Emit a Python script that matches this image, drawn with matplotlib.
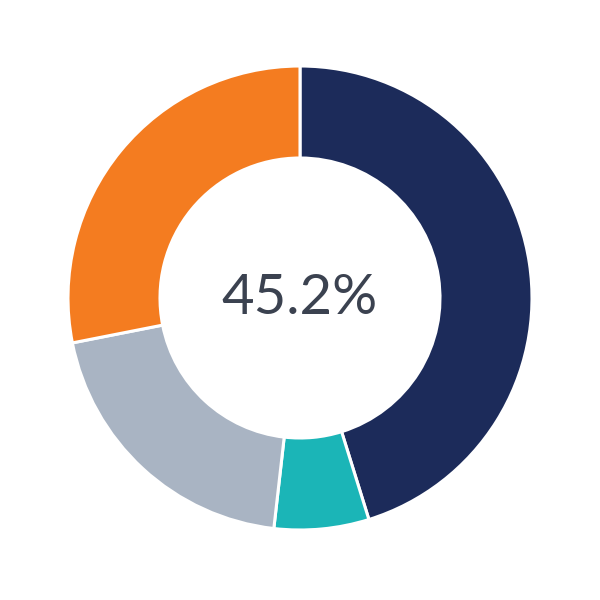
import matplotlib.pyplot as plt

labels = ['A', 'B', 'C', 'D']
values = [45.2, 6.6, 20.1, 28.1]
colors = ['#1c2b5a', '#1bb5b7', '#a9b4c3', '#f47c20']
center_label = '45.2%'

fig = plt.figure(figsize=(6, 6), dpi=100)
ax = fig.add_axes([0, 0, 1, 1])

r = 232
ax.pie(values, colors=colors, startangle=90, counterclock=False,
       radius=1, wedgeprops=dict(width=92 / r, edgecolor='white', linewidth=2.2))

ax.text(0, 0, center_label, ha='center', va='center', fontsize=40.5,
        family=['Lato', 'DejaVu Sans'], fontweight='normal', color='#3b4250')

ax.set_xlim(-300 / r, 300 / r)
ax.set_ylim(-302 / r, 298 / r)
ax.set_aspect('equal')
ax.axis('off')

fig.savefig('out.png', dpi=100, facecolor='white')
